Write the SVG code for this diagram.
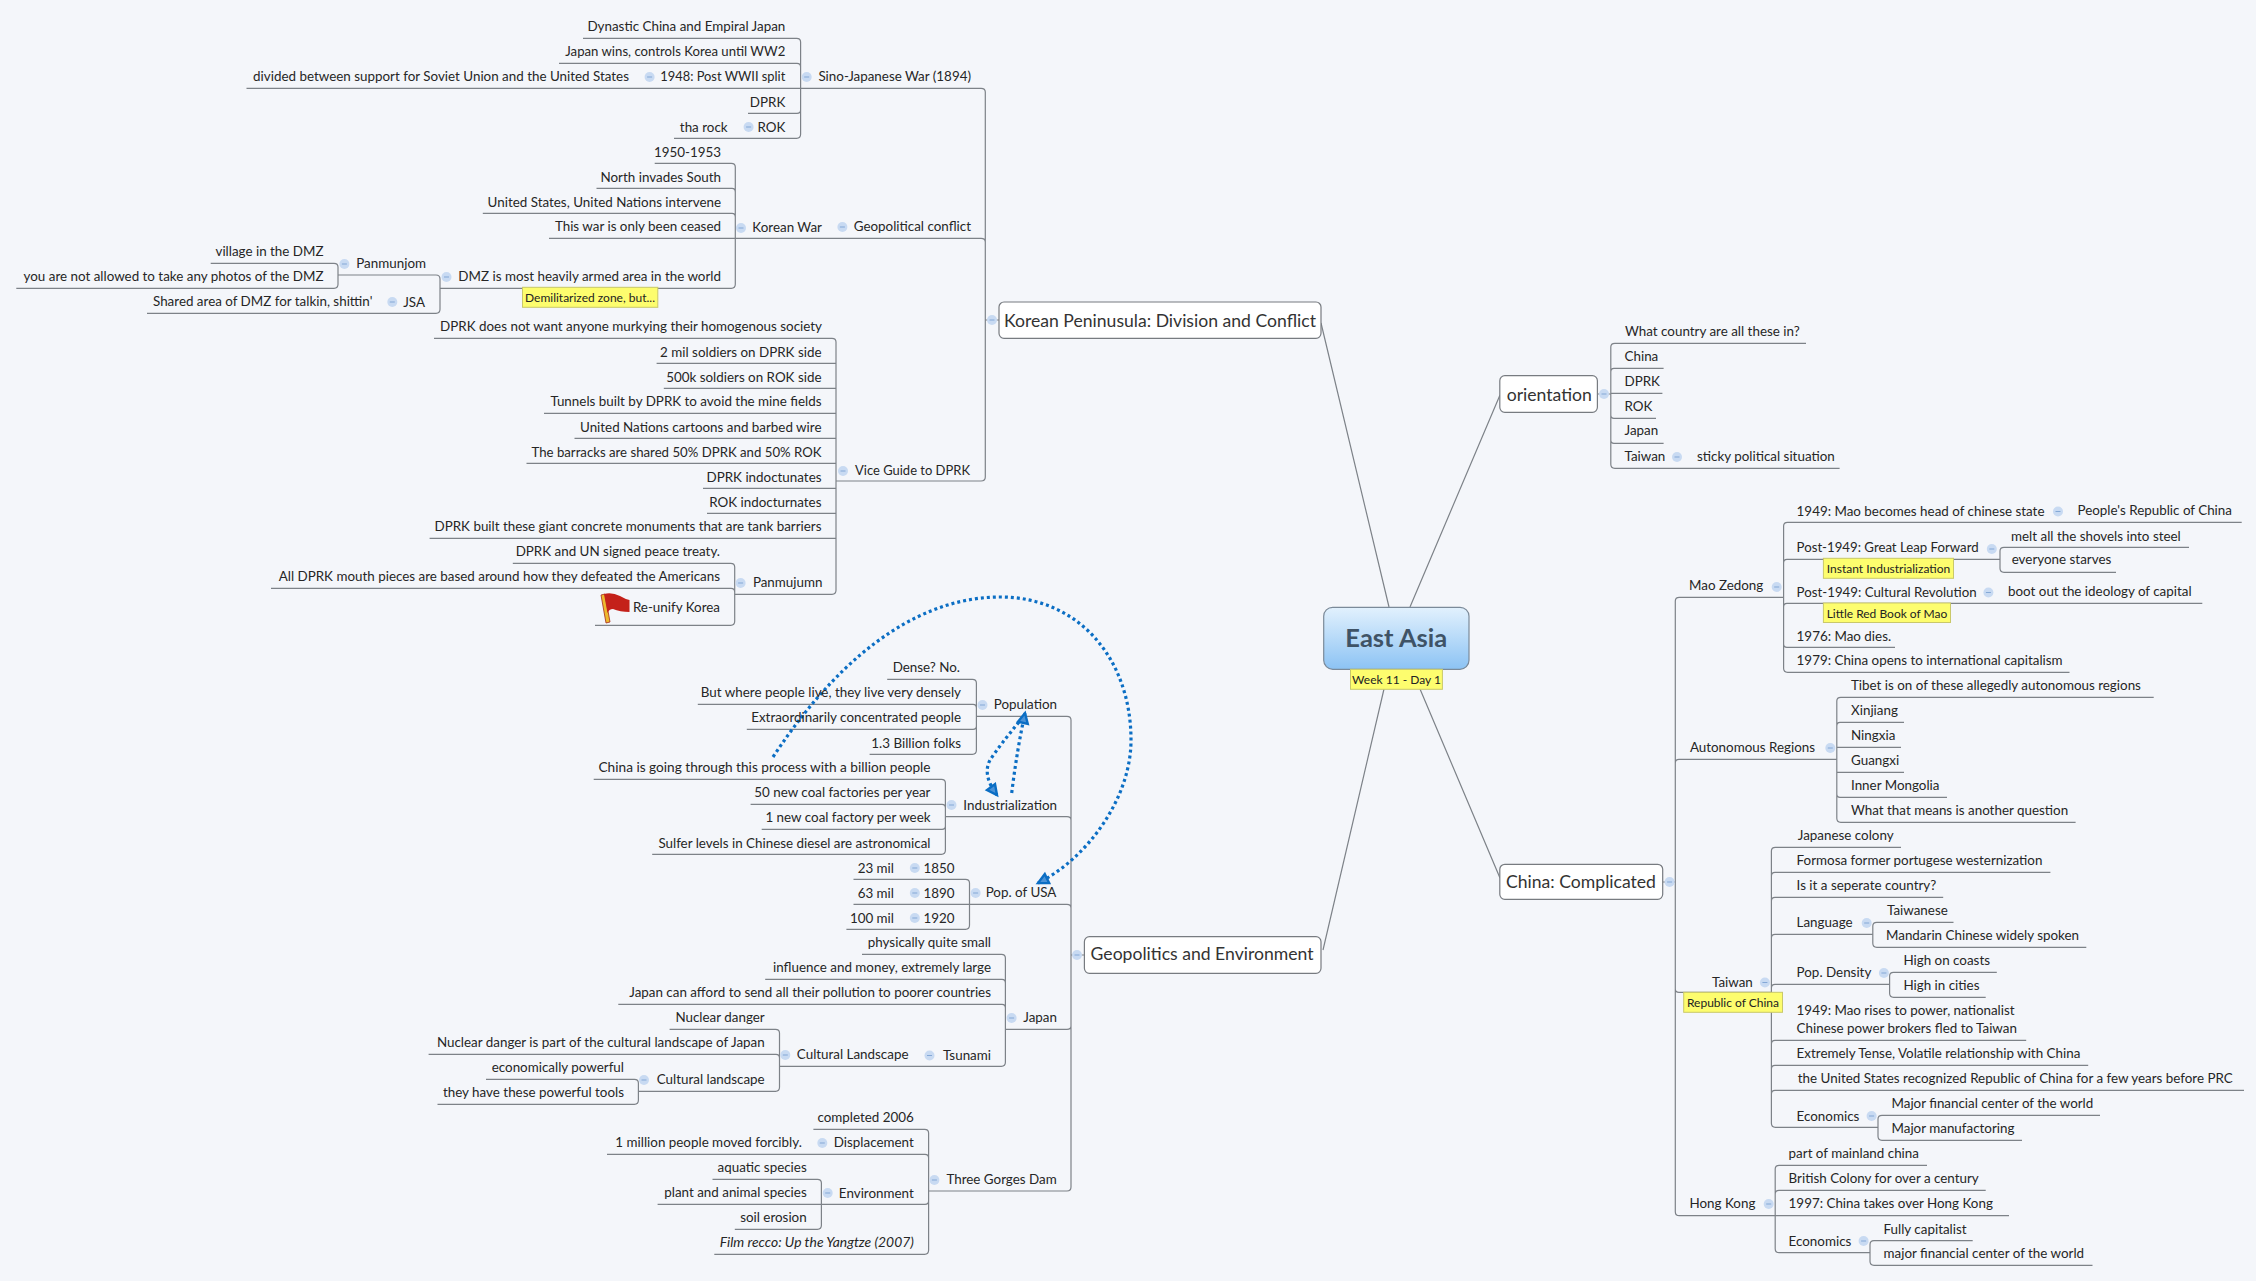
<svg xmlns="http://www.w3.org/2000/svg" width="2256" height="1281" viewBox="0 0 2256 1281">
<style>
text{font-family:Lato,"Liberation Sans",sans-serif;font-size:13.4px;fill:#262626}
.e{text-anchor:end}
.c{fill:none;stroke:#7d8288;stroke-width:1.2}
.b{fill:#fff;stroke:#777b80;stroke-width:1.2}
.h{font-size:17.6px;fill:#333}
.y{fill:#fdfd6e;stroke:#c9c86a;stroke-width:1}
.n{font-size:12px;fill:#222}
.r{fill:none;stroke:#0b6ec4;stroke-width:3.2;stroke-dasharray:3 3}
</style>
<defs>
<linearGradient id="g" x1="0" y1="0" x2="0" y2="1"><stop offset="0" stop-color="#e2f1fd"/><stop offset="1" stop-color="#8cc3f4"/></linearGradient>
<g id="m"><circle r="5" fill="#c8daf2"/><path d="M-2.5 0H2.5" stroke="#84a8d6" stroke-width="1"/></g>
<marker id="a" markerUnits="userSpaceOnUse" markerWidth="16" markerHeight="16" refX="12" refY="7" orient="auto"><path d="M2 2L12 7L2 12Z" fill="#4b93d8" stroke="#0b6ec4" stroke-width="2.4"/></marker>
</defs>
<rect width="2256" height="1281" fill="#f4f6fa"/>
<g id="connectors">
<path class="c" d="M1321 323L1389 607M1500 395L1410 607M1384 689L1323 950M1420 689L1500 878"/>
<path class="c" d="M985.3 92V477Q985.3 481 981 481H836M246.5 88.3H981Q985.3 88.3 985.3 92M549 238.3H981Q985.3 238.3 985.3 242M985.3 320H999"/>
<path class="c" d="M583 38.3H796.6Q800.6 38.3 800.6 42V134.3Q800.6 138.3 796.6 138.3H674M559 63.3H797Q800.6 63.3 800.6 67M748 113.3H797Q800.6 113.3 800.6 110"/>
<path class="c" d="M654.7 163.3H731.3Q735.3 163.3 735.3 167V284.3Q735.3 288.3 731.3 288.3H440M596.5 188.3H732Q735.3 188.3 735.3 192M482.8 213.3H732Q735.3 213.3 735.3 217"/>
<path class="c" d="M338 275H436Q440 275 440 279V309.3Q440 313.3 436 313.3H147"/>
<path class="c" d="M210.7 263.3H334Q338 263.3 338 267V284.3Q338 288.3 334 288.3H16.3"/>
<path class="c" d="M434 338.3H832Q836 338.3 836 342V590.3Q836 594.3 832 594.3H734.7M656.6 363.3H836M663.8 388.3H836M544 413.3H836M574.5 438.3H836M526.5 463.3H836M703 488.3H836M707 513.3H836M429.6 538.3H836"/>
<path class="c" d="M512.8 563.3H730.7Q734.7 563.3 734.7 567V621.3Q734.7 625.3 730.7 625.3H595M271 588.3H731Q734.7 588.3 734.7 592"/>
<path class="c" d="M1071 720V1187Q1071 1191 1067 1191H928.6M976.4 716.3H1067Q1071 716.3 1071 720M945.4 816.7H1067Q1071 816.7 1071 820M969.5 904.3H1067Q1071 904.3 1071 908M1005.4 1029.3H1067Q1071 1029.3 1071 1026M1071 955H1084.4"/>
<path class="c" d="M887.2 679.3H972.4Q976.4 679.3 976.4 683V750.3Q976.4 754.3 972.4 754.3H869.6M697.8 704.3H973Q976.4 704.3 976.4 708M746.8 729.3H973Q976.4 729.3 976.4 726"/>
<path class="c" d="M593.7 779.3H941.4Q945.4 779.3 945.4 783V850.3Q945.4 854.3 941.4 854.3H652.2M750.6 804.3H942Q945.4 804.3 945.4 808M761.7 829.3H942Q945.4 829.3 945.4 826"/>
<path class="c" d="M853.5 879.3H965.5Q969.5 879.3 969.5 883V925.3Q969.5 929.3 965.5 929.3H846.4M853.5 904.3H969.5"/>
<path class="c" d="M862 954.3H1001.4Q1005.4 954.3 1005.4 958V1062.3Q1005.4 1066.3 1001.4 1066.3H779.5M765.2 979.3H1002Q1005.4 979.3 1005.4 983M618.3 1004.3H1002Q1005.4 1004.3 1005.4 1008"/>
<path class="c" d="M669.6 1029.3H775.5Q779.5 1029.3 779.5 1033V1087.3Q779.5 1091.3 775.5 1091.3H638.4M428.6 1054.3H776Q779.5 1054.3 779.5 1058"/>
<path class="c" d="M486 1079.3H634.4Q638.4 1079.3 638.4 1083V1100.3Q638.4 1104.3 634.4 1104.3H437.5"/>
<path class="c" d="M813.4 1129.3H924.6Q928.6 1129.3 928.6 1133V1250.3Q928.6 1254.3 924.6 1254.3H714.3M607 1154.3H925Q928.6 1154.3 928.6 1158M657.6 1204.3H925Q928.6 1204.3 928.6 1201"/>
<path class="c" d="M712.5 1179.3H817.4Q821.4 1179.3 821.4 1183V1225.3Q821.4 1229.3 817.4 1229.3H734.8"/>
<path class="c" d="M1597.4 394H1610.8M1806 343.3H1614.8Q1610.8 343.3 1610.8 347V464.3Q1610.8 468.3 1614.8 468.3H1839.6M1663.6 368.3H1614Q1610.8 368.3 1610.8 372M1662.4 393.3H1610.8M1656 418.3H1614Q1610.8 418.3 1610.8 415M1663.6 443.3H1614Q1610.8 443.3 1610.8 440"/>
<path class="c" d="M1662.7 882H1675.3M1783.6 597.3H1679.3Q1675.3 597.3 1675.3 601V1211.7Q1675.3 1215.7 1679.3 1215.7H2009M1836.8 759.3H1679Q1675.3 759.3 1675.3 763M1771.4 992.3H1679Q1675.3 992.3 1675.3 989"/>
<path class="c" d="M2241.7 522.3H1787.6Q1783.6 522.3 1783.6 526V668.3Q1783.6 672.3 1787.6 672.3H2069.5M2000 559.3H1787Q1783.6 559.3 1783.6 563M2202.3 603.3H1787Q1783.6 603.3 1783.6 607M1895 647.3H1787Q1783.6 647.3 1783.6 644"/>
<path class="c" d="M2189 547.3H2004Q2000 547.3 2000 551V568.3Q2000 572.3 2004 572.3H2116"/>
<path class="c" d="M2153.7 697.3H1840.8Q1836.8 697.3 1836.8 701V818.3Q1836.8 822.3 1840.8 822.3H2075.6M1904 722.3H1840Q1836.8 722.3 1836.8 726M1901 747.3H1836.8M1904 772.3H1836.8M1947 797.3H1840Q1836.8 797.3 1836.8 794"/>
<path class="c" d="M1901 847.3H1775.4Q1771.4 847.3 1771.4 851V1123.3Q1771.4 1127.3 1775.4 1127.3H1878M2050.4 872.3H1775Q1771.4 872.3 1771.4 876M1943.2 897.3H1775Q1771.4 897.3 1771.4 901M1872.8 934.3H1775Q1771.4 934.3 1771.4 938M1889.6 984.3H1775Q1771.4 984.3 1771.4 988M2026.2 1040.3H1775Q1771.4 1040.3 1771.4 1044M2088.2 1065.3H1775Q1771.4 1065.3 1771.4 1069M2244 1090.3H1775Q1771.4 1090.3 1771.4 1094"/>
<path class="c" d="M1953.5 922.3H1876.8Q1872.8 922.3 1872.8 926V943.3Q1872.8 947.3 1876.8 947.3H2086.3"/>
<path class="c" d="M1996.8 972.3H1893.6Q1889.6 972.3 1889.6 976V993.3Q1889.6 997.3 1893.6 997.3H1985.7"/>
<path class="c" d="M2100 1115.3H1882Q1878 1115.3 1878 1119V1136.3Q1878 1140.3 1882 1140.3H2022"/>
<path class="c" d="M1927 1165.3H1779.2Q1775.2 1165.3 1775.2 1169V1248.7Q1775.2 1252.7 1779.2 1252.7H1870M1985.7 1190.3H1779Q1775.2 1190.3 1775.2 1194"/>
<path class="c" d="M1972.7 1240.7H1874Q1870 1240.7 1870 1244.7V1261.3Q1870 1265.3 1874 1265.3H2092.5"/>
<path class="r" marker-end="url(#a)" d="M773 757C850 640 930 597 1000 597C1080 597 1131 660 1131 740C1131 800 1085 860 1038 883"/>
<path class="r" marker-end="url(#a)" d="M1011.7 793Q1017 750 1025 713"/>
<path class="r" marker-end="url(#a)" d="M1019 722Q1000 745 990 760Q982 775 997 795"/>
</g>
<g id="center"><rect x="1323.7" y="607.3" width="145.3" height="62" rx="9" fill="url(#g)" stroke="#7b8a99" stroke-width="1.2"/><text x="1396.3" y="647" text-anchor="middle" style="font-size:25.5px;font-weight:700;fill:#3f5366">East Asia</text><rect class="y" x="1350.5" y="669.3" width="91.9" height="20"/><text class="n" x="1396.5" y="684" text-anchor="middle">Week 11 - Day 1</text></g>
<g id="korean"><rect class="b" x="999" y="302" width="322" height="36.3" rx="5"/><text class="h" x="1004" y="326.5">Korean Peninusula: Division and Conflict</text><use href="#m" x="992" y="320"/></g>
<g id="orientation"><rect class="b" x="1499.8" y="375.7" width="97.6" height="36.6" rx="5"/><text class="h" x="1506.7" y="400.5">orientation</text><use href="#m" x="1604" y="394"/></g>
<g id="china"><rect class="b" x="1499.8" y="864.3" width="162.9" height="35" rx="5"/><text class="h" x="1506" y="887.5">China: Complicated</text><use href="#m" x="1669.6" y="882"/></g>
<g id="geo"><rect class="b" x="1084.4" y="936.7" width="236.6" height="36.6" rx="5"/><text class="h" x="1090.6" y="959.5">Geopolitics and Environment</text><use href="#m" x="1077" y="955"/></g>
<g id="sino"><text class="e" x="971" y="81">Sino-Japanese War (1894)</text><use href="#m" x="806.7" y="77"/></g>
<g id="k1"><text class="e" x="785.3" y="30.8">Dynastic China and Empiral Japan</text></g>
<g id="k2"><text class="e" x="785.3" y="55.8" textLength="220" lengthAdjust="spacingAndGlyphs">Japan wins, controls Korea until WW2</text></g>
<g id="k3"><text class="e" x="785.3" y="81" textLength="125" lengthAdjust="spacingAndGlyphs">1948: Post WWII split</text><use href="#m" x="649.6" y="77"/></g>
<g id="k3a"><text class="e" x="629" y="81">divided between support for Soviet Union and the United States</text></g>
<g id="k4"><text class="e" x="785.3" y="107">DPRK</text></g>
<g id="k5"><text class="e" x="785.3" y="132">ROK</text><use href="#m" x="748.6" y="127"/></g>
<g id="k5a"><text class="e" x="727.6" y="132">tha rock</text></g>
<g id="geoc"><text class="e" x="971" y="231">Geopolitical conflict</text><use href="#m" x="842.4" y="227"/></g>
<g id="kwar"><text class="e" x="822" y="232">Korean War</text><use href="#m" x="741" y="228"/></g>
<g id="w1"><text class="e" x="721" y="157">1950-1953</text></g>
<g id="w2"><text class="e" x="721" y="182">North invades South</text></g>
<g id="w3"><text class="e" x="721" y="206.5">United States, United Nations intervene</text></g>
<g id="w4"><text class="e" x="721" y="231">This war is only been ceased</text></g>
<g id="dmz"><text class="e" x="721" y="281">DMZ is most heavily armed area in the world</text><use href="#m" x="446.5" y="277"/><rect class="y" x="522.5" y="287.3" width="135.3" height="20"/><text class="n" x="590" y="302" text-anchor="middle">Demilitarized zone, but...</text></g>
<g id="pan"><text class="e" x="426" y="268">Panmunjom</text><use href="#m" x="344.4" y="264"/></g>
<g id="pan1"><text class="e" x="323.5" y="256">village in the DMZ</text></g>
<g id="pan2"><text class="e" x="323.5" y="281">you are not allowed to take any photos of the DMZ</text></g>
<g id="jsa"><text class="e" x="425" y="306.5">JSA</text><use href="#m" x="392.3" y="302"/></g>
<g id="jsa1"><text class="e" x="372.4" y="306">Shared area of DMZ for talkin, shittin'</text></g>
<g id="vice"><text class="e" x="970" y="475" textLength="115" lengthAdjust="spacingAndGlyphs">Vice Guide to DPRK</text><use href="#m" x="843" y="471"/></g>
<g id="v1"><text class="e" x="822" y="331">DPRK does not want anyone murkying their homogenous society</text></g>
<g id="v2"><text class="e" x="821.5" y="357">2 mil soldiers on DPRK side</text></g>
<g id="v3"><text class="e" x="821.5" y="382">500k soldiers on ROK side</text></g>
<g id="v4"><text class="e" x="821.5" y="406">Tunnels built by DPRK to avoid the mine fields</text></g>
<g id="v5"><text class="e" x="821.5" y="432">United Nations cartoons and barbed wire</text></g>
<g id="v6"><text class="e" x="821.5" y="457" textLength="290" lengthAdjust="spacingAndGlyphs">The barracks are shared 50% DPRK and 50% ROK</text></g>
<g id="v7"><text class="e" x="821.5" y="482">DPRK indoctunates</text></g>
<g id="v8"><text class="e" x="821.5" y="507">ROK indocturnates</text></g>
<g id="v9"><text class="e" x="821.5" y="531">DPRK built these giant concrete monuments that are tank barriers</text></g>
<g id="pj"><text class="e" x="822.5" y="587">Panmujumn</text><use href="#m" x="740.6" y="583"/></g>
<g id="pj1"><text class="e" x="720" y="556">DPRK and UN signed peace treaty.</text></g>
<g id="pj2"><text class="e" x="720" y="581">All DPRK mouth pieces are based around how they defeated the Americans</text></g>
<g id="pj3"><path d="M601 595L605 594L610 622L606 623Z" fill="#edb92e" stroke="#a52a1a" stroke-width=".8"/><path d="M604 594Q612 592 620 596Q625 599 629.5 600L629.5 612Q620 612 613 609Q609 609 607.5 613Z" fill="#c4211a"/><text class="e" x="720" y="612">Re-unify Korea</text></g>
<g id="pop"><text class="e" x="1057" y="708.5">Population</text><use href="#m" x="982.5" y="705"/></g>
<g id="p1"><text class="e" x="960" y="672">Dense? No.</text></g>
<g id="p2"><text class="e" x="961" y="696.5">But where people live, they live very densely</text></g>
<g id="p3"><text class="e" x="961" y="722">Extraordinarily concentrated people</text></g>
<g id="p4"><text class="e" x="961" y="748">1.3 Billion folks</text></g>
<g id="ind"><text class="e" x="1057" y="810">Industrialization</text><use href="#m" x="951.5" y="805"/></g>
<g id="i1"><text class="e" x="930.5" y="772" textLength="332" lengthAdjust="spacingAndGlyphs">China is going through this process with a billion people</text></g>
<g id="i2"><text class="e" x="930.5" y="797">50 new coal factories per year</text></g>
<g id="i3"><text class="e" x="930.5" y="822">1 new coal factory per week</text></g>
<g id="i4"><text class="e" x="930.5" y="848">Sulfer levels in Chinese diesel are astronomical</text></g>
<g id="usa"><text class="e" x="1056.4" y="897">Pop. of USA</text><use href="#m" x="975.6" y="893"/></g>
<g id="u1"><text class="e" x="954.6" y="873">1850</text><use href="#m" x="914.8" y="868"/></g>
<g id="u1a"><text class="e" x="894" y="873">23 mil</text></g>
<g id="u2"><text class="e" x="954.6" y="897.5">1890</text><use href="#m" x="914.8" y="893"/></g>
<g id="u2a"><text class="e" x="894" y="897.5">63 mil</text></g>
<g id="u3"><text class="e" x="954.6" y="923">1920</text><use href="#m" x="914.8" y="918"/></g>
<g id="u3a"><text class="e" x="894" y="923">100 mil</text></g>
<g id="japan"><text class="e" x="1057" y="1022">Japan</text><use href="#m" x="1011.6" y="1018"/></g>
<g id="j1"><text class="e" x="991" y="947">physically quite small</text></g>
<g id="j2"><text class="e" x="991" y="972">influence and money, extremely large</text></g>
<g id="j3"><text class="e" x="991" y="997">Japan can afford to send all their pollution to poorer countries</text></g>
<g id="tsu"><text class="e" x="991" y="1060">Tsunami</text><use href="#m" x="929.5" y="1055.5"/></g>
<g id="cl"><text class="e" x="908.5" y="1059">Cultural Landscape</text><use href="#m" x="785.3" y="1055"/></g>
<g id="c1"><text class="e" x="764.7" y="1022">Nuclear danger</text></g>
<g id="c2"><text class="e" x="764.7" y="1047">Nuclear danger is part of the cultural landscape of Japan</text></g>
<g id="cl2"><text class="e" x="764.7" y="1084">Cultural landscape</text><use href="#m" x="644" y="1080"/></g>
<g id="c3"><text class="e" x="624" y="1072">economically powerful</text></g>
<g id="c4"><text class="e" x="624" y="1097">they have these powerful tools</text></g>
<g id="dam"><text class="e" x="1056.7" y="1184">Three Gorges Dam</text><use href="#m" x="934.4" y="1180"/></g>
<g id="d1"><text class="e" x="913.8" y="1122">completed 2006</text></g>
<g id="d2"><text class="e" x="913.8" y="1147">Displacement</text><use href="#m" x="822.3" y="1143"/></g>
<g id="d2a"><text class="e" x="801.8" y="1147">1 million people moved forcibly.</text></g>
<g id="d3"><text class="e" x="913.8" y="1198">Environment</text><use href="#m" x="827.7" y="1193"/></g>
<g id="e1"><text class="e" x="806.7" y="1172">aquatic species</text></g>
<g id="e2"><text class="e" x="806.7" y="1197">plant and animal species</text></g>
<g id="e3"><text class="e" x="806.7" y="1222">soil erosion</text></g>
<g id="d4"><text class="e" x="913.8" y="1247" font-style="italic" textLength="194" lengthAdjust="spacingAndGlyphs">Film recco: Up the Yangtze (2007)</text></g>
<g id="o1"><text x="1625" y="336">What country are all these in?</text></g>
<g id="o2"><text x="1624.5" y="361">China</text></g>
<g id="o3"><text x="1624.5" y="386">DPRK</text></g>
<g id="o4"><text x="1624.5" y="411">ROK</text></g>
<g id="o5"><text x="1624.5" y="435">Japan</text></g>
<g id="o6"><text x="1624.5" y="461">Taiwan</text><use href="#m" x="1677" y="457"/></g>
<g id="o6a"><text x="1697" y="460.5">sticky political situation</text></g>
<g id="mao"><text x="1689" y="590">Mao Zedong</text><use href="#m" x="1776.7" y="587"/></g>
<g id="m1"><text x="1796.6" y="516">1949: Mao becomes head of chinese state</text><use href="#m" x="2058" y="511.5"/></g>
<g id="m1a"><text x="2077.5" y="515">People's Republic of China</text></g>
<g id="m2"><text x="1796.6" y="551.5" textLength="182" lengthAdjust="spacingAndGlyphs">Post-1949: Great Leap Forward</text><use href="#m" x="1991.8" y="549"/><rect class="y" x="1823.4" y="558.3" width="130.1" height="20"/><text class="n" x="1888.5" y="573" text-anchor="middle">Instant Industrialization</text></g>
<g id="m2a"><text x="2011" y="541">melt all the shovels into steel</text></g>
<g id="m2b"><text x="2011.7" y="564">everyone starves</text></g>
<g id="m3"><text x="1796.6" y="597" textLength="180" lengthAdjust="spacingAndGlyphs">Post-1949: Cultural Revolution</text><use href="#m" x="1988.4" y="592.5"/><rect class="y" x="1823.4" y="603" width="127.1" height="19.5"/><text class="n" x="1887" y="617.5" text-anchor="middle">Little Red Book of Mao</text></g>
<g id="m3a"><text x="2008" y="596">boot out the ideology of capital</text></g>
<g id="m4"><text x="1796.6" y="640.5">1976: Mao dies.</text></g>
<g id="m5"><text x="1796.6" y="665">1979: China opens to international capitalism</text></g>
<g id="auto"><text x="1689.9" y="751.5">Autonomous Regions</text><use href="#m" x="1830.3" y="748"/></g>
<g id="a1"><text x="1851" y="690">Tibet is on of these allegedly autonomous regions</text></g>
<g id="a2"><text x="1851" y="715">Xinjiang</text></g>
<g id="a3"><text x="1851" y="740">Ningxia</text></g>
<g id="a4"><text x="1851" y="765">Guangxi</text></g>
<g id="a5"><text x="1851" y="790">Inner Mongolia</text></g>
<g id="a6"><text x="1851" y="815">What that means is another question</text></g>
<g id="tw"><text x="1712" y="986.5">Taiwan</text><use href="#m" x="1764.9" y="982.5"/><rect class="y" x="1683.7" y="992.3" width="98.8" height="20"/><text class="n" x="1733" y="1007" text-anchor="middle">Republic of China</text></g>
<g id="t1"><text x="1797.8" y="840">Japanese colony</text></g>
<g id="t2"><text x="1796.6" y="865">Formosa former portugese westernization</text></g>
<g id="t3"><text x="1796.6" y="890">Is it a seperate country?</text></g>
<g id="t4"><text x="1796.6" y="926.5">Language</text><use href="#m" x="1866.7" y="923"/></g>
<g id="t4a"><text x="1887" y="915">Taiwanese</text></g>
<g id="t4b"><text x="1886" y="940">Mandarin Chinese widely spoken</text></g>
<g id="t5"><text x="1796.6" y="977">Pop. Density</text><use href="#m" x="1883.9" y="973"/></g>
<g id="t5a"><text x="1903.4" y="965">High on coasts</text></g>
<g id="t5b"><text x="1903.4" y="990">High in cities</text></g>
<g id="t6"><text x="1796.6" y="1015">1949: Mao rises to power, nationalist</text><text x="1796.6" y="1032.5">Chinese power brokers fled to Taiwan</text></g>
<g id="t7"><text x="1796.6" y="1058">Extremely Tense, Volatile relationship with China</text></g>
<g id="t8"><text x="1797.8" y="1083">the United States recognized Republic of China for a few years before PRC</text></g>
<g id="t9"><text x="1796.6" y="1121">Economics</text><use href="#m" x="1871.6" y="1116"/></g>
<g id="t9a"><text x="1891.5" y="1108">Major financial center of the world</text></g>
<g id="t9b"><text x="1891.5" y="1133">Major manufactoring</text></g>
<g id="hk"><text x="1689.5" y="1208">Hong Kong</text><use href="#m" x="1768.7" y="1204"/></g>
<g id="h1"><text x="1788.6" y="1158">part of mainland china</text></g>
<g id="h2"><text x="1788.6" y="1183">British Colony for over a century</text></g>
<g id="h3"><text x="1788.6" y="1208">1997: China takes over Hong Kong</text></g>
<g id="h4"><text x="1788.6" y="1246">Economics</text><use href="#m" x="1863.6" y="1241"/></g>
<g id="h4a"><text x="1883.5" y="1233.5">Fully capitalist</text></g>
<g id="h4b"><text x="1883.5" y="1258">major financial center of the world</text></g>
</svg>
